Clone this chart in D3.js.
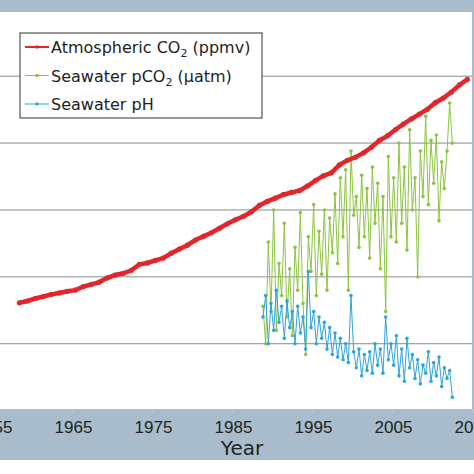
<!DOCTYPE html>
<html><head><meta charset="utf-8">
<script src="https://cdn.jsdelivr.net/npm/d3@7"></script>
<style>body{margin:0;background:#fff}svg{display:block;font-family:"DejaVu Sans",sans-serif}</style>
</head><body><svg id="c" width="474" height="474"></svg>
<script>
// Mauna Loa annual means, 1958-2014
var co2Years = d3.range(1958.3, 2015, 1);
var co2 = [315.3,315.97,316.91,317.64,318.45,318.99,319.62,320.04,321.38,322.16,323.04,324.62,325.68,326.32,327.46,329.68,330.19,331.12,332.03,333.84,335.41,336.84,338.76,340.12,341.48,343.15,344.85,346.35,347.61,349.31,351.69,353.2,354.45,355.7,356.54,357.21,358.96,360.97,362.74,363.88,366.84,368.54,369.71,371.32,373.45,375.98,377.7,379.98,382.09,384.02,385.83,387.64,390.1,391.85,394.06,396.74,398.81];
var swYears = d3.range(0, 72).map(function(i){ return 1988.75 + i / 3; });
var pco2 = [314,300,338,312,350,305,330,318,345,310,328,303,336,320,349,315,296,340,327,352,318,342,326,350,320,347,334,356,330,362,340,365,320,372,348,355,336,363,340,358,332,366,345,360,328,355,312,370,340,362,338,375,345,366,335,380,350,362,325,372,355,385,352,376,360,378,346,368,358,372,390,375];
var ph = [310,318,300,315,305,320,308,314,302,316,306,312,300,314,304,310,298,327,306,312,300,310,302,308,298,306,296,304,295,302,294,300,293,318,297,291,298,288,296,290,297,289,300,292,298,289,310,294,300,292,303,288,298,286,302,291,296,287,294,285,292,289,297,286,293,288,295,284,291,287,290,280];
var xTicks = [1955,1965,1975,1985,1995,2005,2015];
var yGrid = [300,325,350,375,400];
var legendLabels = [['Atmospheric CO','2',' (ppmv)'],['Seawater pCO','2',' (\u00b5atm)'],['Seawater pH','','']];
var colors = ['#e3262b','#8cc43f','#2ea3dc'];

var svg = d3.select('#c');
var x = d3.scaleLinear().domain([1955, 2015]).range([-7, 473]);
var y = d3.scaleLinear().domain([275.6, 424]).range([409, 12]);

svg.append('rect').attr('width',474).attr('height',460).attr('fill','#a8bccb');
svg.append('rect').attr('x',0).attr('y',12).attr('width',472).attr('height',397).attr('fill','#fff');

svg.selectAll('.grid').data(yGrid).enter().append('line')
  .attr('x1',0).attr('x2',472).attr('y1',d=>y(d)).attr('y2',d=>y(d))
  .attr('stroke','#8a8a8a').attr('stroke-width',1);

var xAxis = svg.append('g').attr('transform','translate(0,409)')
  .call(d3.axisBottom(x).tickValues(xTicks).tickFormat(d3.format('d')).tickSize(4).tickPadding(8));
xAxis.select('.domain').remove();
xAxis.selectAll('line').attr('stroke','#ccd');
xAxis.selectAll('text').attr('font-size',17).attr('fill','#222');
svg.append('text').attr('x',242).attr('y',455).attr('text-anchor','middle')
  .attr('font-size',20).attr('fill','#222').text('Year');

function series(xs, vs, col, w, r) {
  var pts = xs.map(function(d,i){ return [d, vs[i]]; });
  svg.append('path').datum(pts).attr('fill','none').attr('stroke',col).attr('stroke-width',w)
    .attr('d', d3.line().x(d=>x(d[0])).y(d=>y(d[1])));
  svg.append('g').selectAll('circle').data(pts).enter().append('circle')
    .attr('cx',d=>x(d[0])).attr('cy',d=>y(d[1])).attr('r',r).attr('fill',col);
}
series(swYears, pco2, colors[1], 1, 1.8);
series(swYears, ph, colors[2], 1, 1.8);
series(co2Years, co2, colors[0], 4.5, 2.6);

var lg = svg.append('g');
lg.append('rect').attr('x',20).attr('y',33).attr('width',242).attr('height',85)
  .attr('fill','#fff').attr('stroke','#333').attr('stroke-width',1);
legendLabels.forEach(function(l,i){
  var yy = 47 + i*28.5;
  lg.append('line').attr('x1',25).attr('x2',49).attr('y1',yy).attr('y2',yy)
    .attr('stroke',colors[i]).attr('stroke-width',i===0?2:1);
  lg.append('circle').attr('cx',37).attr('cy',yy).attr('r',1.8).attr('fill',colors[i]);
  var t = lg.append('text').attr('x',51).attr('y',yy+6).attr('font-size',16).attr('fill','#222');
  t.append('tspan').text(l[0]);
  if (l[1]) t.append('tspan').attr('font-size',11).attr('dy',4).text(l[1]);
  if (l[2]) t.append('tspan').attr('dy',-4).text(l[2]);
});
</script></body></html>
